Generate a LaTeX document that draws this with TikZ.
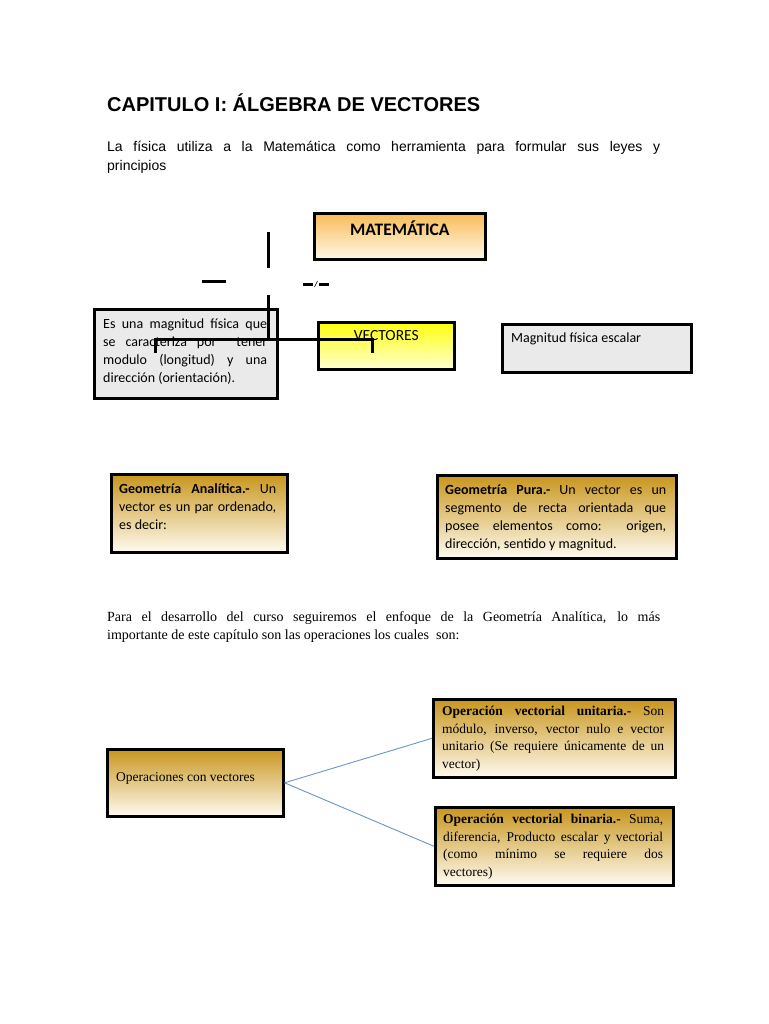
\documentclass[tikz,border=0pt]{standalone}
\usepackage{fontspec}
\setmainfont{Carlito}
\newfontfamily\arialf{Liberation Sans}
\newfontfamily\timesf{Liberation Serif}
\begin{document}
\begin{tikzpicture}[x=1pt,y=-1pt,
  boxline/.style={draw=black, line width=2.6pt, rectangle, inner sep=0pt, anchor=north west},
  gold/.style={boxline, top color=gold1, bottom color=gold2},
  orangebox/.style={boxline, top color=orange1, bottom color=orange2},
  yellowbox/.style={boxline, top color=yellow1, bottom color=yellow2},
  marble/.style={boxline, fill=marblegray},
  txt/.style={inner sep=0pt, anchor=north west, align=justify, font=\fontsize{14}{18}\selectfont},
  ttxt/.style={inner sep=0pt, anchor=north west, align=justify, font=\timesf\fontsize{13.5}{17.5}\selectfont},
  frag/.style={line width=3pt, black},
  blueline/.style={draw=linkblue, line width=0.9pt}
]
\definecolor{gold1}{HTML}{C8961E}
\definecolor{gold2}{HTML}{FFFBF0}
\definecolor{orange1}{HTML}{F8BC58}
\definecolor{orange2}{HTML}{FFF8E8}
\definecolor{yellow1}{HTML}{FFFF10}
\definecolor{yellow2}{HTML}{FFFFD0}
\definecolor{marblegray}{HTML}{EAEAEA}
\definecolor{linkblue}{HTML}{6E94C6}
\useasboundingbox (0,0) rectangle (768,1024);
\fill[white] (0,0) rectangle (768,1024);

% title and paragraph
\node[inner sep=0pt, anchor=west, font=\arialf\bfseries\fontsize{20}{24}\selectfont] (title) at (107,103) {CAPITULO I: ÁLGEBRA DE VECTORES};
\node[inner sep=0pt, anchor=north west, text width=553pt, align=justify, font=\arialf\fontsize{14}{19}\selectfont] (p1) at (107,141)
 {La física utiliza a la Matemática como herramienta para formular sus leyes y\linebreak principios};

% MATEMATICA
\node[orangebox, minimum width=171pt, minimum height=46pt] (mat) at (313,212) {};
\node[inner sep=0pt, font=\bfseries\fontsize{17.5}{20}\selectfont] (matt) at ([shift={(0,16)}]mat.north) {MATEMÁTICA};

% line fragments
\coordinate (f1a) at (268,232); \coordinate (f1b) at (268,268);
\coordinate (f2a) at (202,281); \coordinate (f2b) at (226,281);
\coordinate (f3a) at (268,295); \coordinate (f3b) at (268,339);
\coordinate (f4a) at (303,284); \coordinate (f4b) at (313,284);
\coordinate (f5a) at (319,284); \coordinate (f5b) at (329,284);

% left marble box
\node[marble, minimum width=183pt, minimum height=89pt] (esuna) at (93,308) {};
\node[txt, text width=164pt] (esunat) at ([shift={(10,11)}]esuna.north west)
 {Es una magnitud física que\linebreak se caracteriza por\ \ tener\linebreak modulo (longitud) y una\linebreak dirección (orientación).};

% VECTORES
\node[yellowbox, minimum width=136pt, minimum height=47pt] (vec) at (317,321) {};
\node[inner sep=0pt, font=\fontsize{15.5}{18}\selectfont] (vect) at ([shift={(0,15)}]vec.north) {VECTORES};

% escalar
\node[marble, minimum width=189pt, minimum height=48pt] (esc) at (501,323) {};
\node[txt, anchor=west] (esct) at ([shift={(10,16)}]esc.north west) {Magnitud física escalar};

% fragments drawn over boxes
\draw[frag] (f1a) -- (f1b);
\draw[frag] (f2a) -- (f2b);
\draw[frag] (f3a) -- (f3b);
\draw[frag] (f4a) -- (f4b);
\draw[frag] (f5a) -- (f5b);
\draw[line width=0.6pt] (314.5,287) -- (317.5,281);
\coordinate (g1) at (155,353); \coordinate (g2) at (155,339);
\coordinate (g3) at (372,339); \coordinate (g4) at (372,353);
\draw[frag, line cap=butt] (g1) -- (g2) -- (g3) -- (g4);

% geometry boxes
\node[gold, minimum width=176pt, minimum height=78pt] (ga) at (110,473) {};
\node[txt, text width=157pt] (gat) at ([shift={(9,10)}]ga.north west)
 {\textbf{Geometría Analítica.-} Un\linebreak vector es un par ordenado,\linebreak es decir:};

\node[gold, minimum width=239pt, minimum height=83pt] (gp) at (436,474) {};
\node[txt, text width=221pt] (gpt) at ([shift={(9,11)}]gp.north west)
 {\textbf{Geometría Pura.-} Un vector es un\linebreak segmento de recta orientada que\linebreak posee elementos como: origen,\linebreak dirección, sentido y magnitud.};

% paragraph 2
\node[inner sep=0pt, anchor=north west, text width=553pt, align=justify, font=\timesf\fontsize{14}{18}\selectfont] (p2) at (107,611)
 {Para el desarrollo del curso seguiremos el enfoque de la Geometría Analítica, lo más\linebreak importante de este capítulo son las operaciones los cuales\ \ son:};

% operations
\node[gold, minimum width=176pt, minimum height=67pt] (op) at (106,748) {};
\node[inner sep=0pt, anchor=west, font=\timesf\fontsize{13.5}{17}\selectfont] (opt) at ([shift={(10,30)}]op.north west) {Operaciones con vectores};

\node[gold, minimum width=242pt, minimum height=78pt] (un) at (432,698) {};
\node[ttxt, text width=222pt] (unt) at ([shift={(10,8)}]un.north west)
 {\textbf{Operación vectorial unitaria.-} Son\linebreak módulo, inverso, vector nulo e vector\linebreak unitario (Se requiere únicamente de un\linebreak vector)};

\node[gold, minimum width=238pt, minimum height=78pt] (bi) at (434,806) {};
\node[ttxt, text width=220pt] (bit) at ([shift={(9,8)}]bi.north west)
 {\textbf{Operación vectorial binaria.-} Suma,\linebreak diferencia, Producto escalar y vectorial\linebreak (como mínimo se requiere dos\linebreak vectores)};

\draw[blueline] (op.east) -- (un.west);
\draw[blueline] (op.east) -- (bi.west);
\end{tikzpicture}
\end{document}
